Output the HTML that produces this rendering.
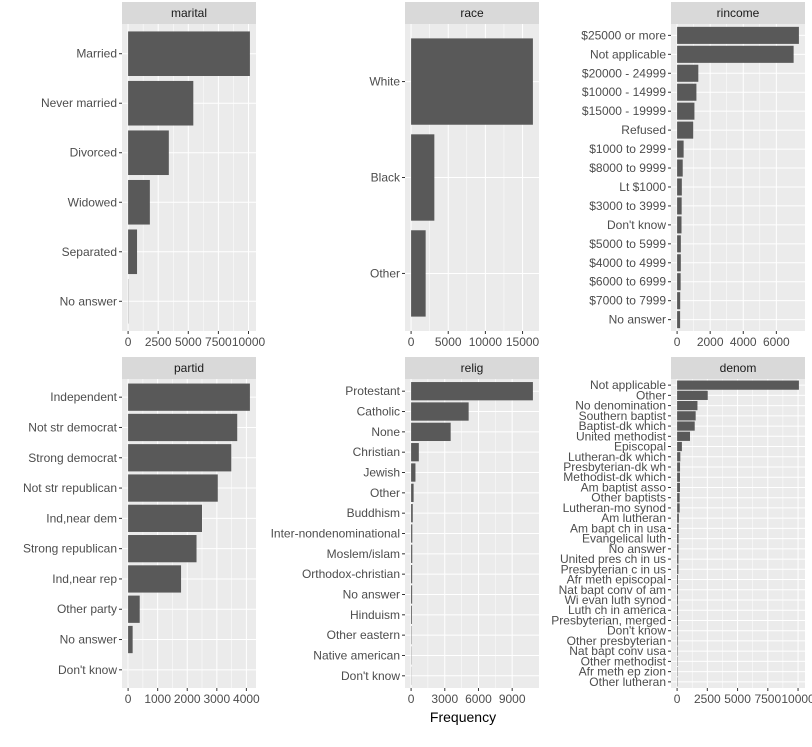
<!DOCTYPE html>
<html><head><meta charset="utf-8">
<style>
body{margin:0;background:#fff;}
svg{display:block;font-family:"Liberation Sans",Arial,sans-serif;}
</style></head>
<body>
<svg id="chart" width="812" height="747" viewBox="0 0 812 747" xmlns="http://www.w3.org/2000/svg"></svg>
<script>
// ---- data ----
const maritalCats = ["Married","Never married","Divorced","Widowed","Separated","No answer"];
const maritalVals = [10117,5416,3383,1807,743,17];
const maritalTicks = [0,2500,5000,7500,10000];

const raceCats = ["White","Black","Other"];
const raceVals = [16395,3129,1959];
const raceTicks = [0,5000,10000,15000];

const rincomeCats = ["$25000 or more","Not applicable","$20000 - 24999","$10000 - 14999","$15000 - 19999","Refused","$1000 to 2999","$8000 to 9999","Lt $1000","$3000 to 3999","Don't know","$5000 to 5999","$4000 to 4999","$6000 to 6999","$7000 to 7999","No answer"];
const rincomeVals = [7363,7043,1283,1168,1048,975,395,340,286,276,267,227,226,215,188,183];
const rincomeTicks = [0,2000,4000,6000];

const partidCats = ["Independent","Not str democrat","Strong democrat","Not str republican","Ind,near dem","Strong republican","Ind,near rep","Other party","No answer","Don't know"];
const partidVals = [4119,3690,3490,3032,2499,2314,1791,393,154,1];
const partidTicks = [0,1000,2000,3000,4000];

const religCats = ["Protestant","Catholic","None","Christian","Jewish","Other","Buddhism","Inter-nondenominational","Moslem/islam","Orthodox-christian","No answer","Hinduism","Other eastern","Native american","Don't know"];
const religVals = [10846,5124,3523,689,388,224,147,109,104,95,93,71,32,23,15];
const religTicks = [0,3000,6000,9000];

const denomCats = ["Not applicable","Other","No denomination","Southern baptist","Baptist-dk which","United methodist","Episcopal","Lutheran-dk which","Presbyterian-dk wh","Methodist-dk which","Am baptist asso","Other baptists","Lutheran-mo synod","Am lutheran","Am bapt ch in usa","Evangelical luth","No answer","United pres ch in us","Presbyterian c in us","Afr meth episcopal","Nat bapt conv of am","Wi evan luth synod","Luth ch in america","Presbyterian, merged","Don't know","Other presbyterian","Nat bapt conv usa","Other methodist","Afr meth ep zion","Other lutheran"];
const denomVals = [10072,2534,1683,1536,1457,1067,397,267,244,239,237,213,212,146,130,122,117,110,104,73,76,71,71,67,52,47,40,33,32,30];
const denomTicks = [0,2500,5000,7500,10000];

// ---- layout ----
const NS="http://www.w3.org/2000/svg";
const svg=document.getElementById('chart');
function el(tag,attrs,parent){const e=document.createElementNS(NS,tag);for(const k in attrs)e.setAttribute(k,attrs[k]);(parent||svg).appendChild(e);return e;}

const panels=[
 {name:"marital",cats:maritalCats,vals:maritalVals,ticks:maritalTicks,x0:122,x1:256,sy0:2,sy1:24,y0:24,y1:331,fs:12},
 {name:"race",cats:raceCats,vals:raceVals,ticks:raceTicks,x0:405,x1:539,sy0:2,sy1:24,y0:24,y1:331,fs:12},
 {name:"rincome",cats:rincomeCats,vals:rincomeVals,ticks:rincomeTicks,x0:671,x1:805,sy0:2,sy1:24,y0:24,y1:331,fs:12},
 {name:"partid",cats:partidCats,vals:partidVals,ticks:partidTicks,x0:122,x1:256,sy0:357,sy1:379,y0:379,y1:688,fs:12},
 {name:"relig",cats:religCats,vals:religVals,ticks:religTicks,x0:405,x1:539,sy0:357,sy1:379,y0:379,y1:688,fs:12},
 {name:"denom",cats:denomCats,vals:denomVals,ticks:denomTicks,x0:671,x1:805,sy0:357,sy1:379,y0:379,y1:688,fs:12}
];

panels.forEach(p=>{
  const g=el('g',{});
  
  
  const max=Math.max(...p.vals);
  const lo=-0.05*max, hi=1.05*max;
  const xs=v=>p.x0+(v-lo)/(hi-lo)*(p.x1-p.x0);
  const n=p.cats.length;
  const unit=(p.y1-p.y0)/(n-1+1.2);
  const ys=i=>p.y0+(0.6+i)*unit;
  // strip
  const st=el('rect',{x:p.x0,y:p.sy0,width:p.x1-p.x0,height:p.sy1-p.sy0,fill:'#d9d9d9'},g);
  
  
  const stt=el('text',{x:(p.x0+p.x1)/2,y:(p.sy0+p.sy1)/2+4,'text-anchor':'middle','font-size':12,fill:'#1a1a1a'},g);
  stt.textContent=p.name;
  
  
  // background
  const bg=el('rect',{x:p.x0,y:p.y0,width:p.x1-p.x0,height:p.y1-p.y0,fill:'#ebebeb'},g);
  
  
  // minor grid
  for(let i=0;i<p.ticks.length-1;i++){
    const xm=xs((p.ticks[i]+p.ticks[i+1])/2);
    el('line',{x1:xm,x2:xm,y1:p.y0,y2:p.y1,stroke:'#fff','stroke-width':0.5},g);
  }
  p.ticks.forEach(t=>{const x=xs(t);el('line',{x1:x,x2:x,y1:p.y0,y2:p.y1,stroke:'#fff','stroke-width':1},g);});
  p.cats.forEach((c,i)=>{const y=ys(i);el('line',{x1:p.x0,x2:p.x1,y1:y,y2:y,stroke:'#fff','stroke-width':1},g);});
  // bars
  p.vals.forEach((v,i)=>{
    const y=ys(i);
    const b=el('rect',{x:xs(0),y:y-0.45*unit,width:Math.max(0,xs(v)-xs(0)),height:0.9*unit,fill:'#595959'},g);
    
    
  });
  // y labels
  p.cats.forEach((c,i)=>{
    const y=ys(i);
    el('line',{x1:p.x0-3,x2:p.x0,y1:y,y2:y,stroke:'#333','stroke-width':1},g);
    const t=el('text',{x:p.x0-5,y:y+4,'text-anchor':'end','font-size':p.fs,fill:'#4d4d4d'},g);
    t.textContent=c;
    
    
  });
  // x ticks
  p.ticks.forEach(tv=>{
    const x=xs(tv);
    el('line',{x1:x,x2:x,y1:p.y1,y2:p.y1+3,stroke:'#333','stroke-width':1},g);
    const t=el('text',{x:x,y:p.y1+15,'text-anchor':'middle','font-size':12,fill:'#4d4d4d'},g);
    t.textContent=tv;
    
    
  });
});
const xt=el('text',{x:463,y:722,'text-anchor':'middle','font-size':14,fill:'#000'});
xt.textContent='Frequency';


</script>
</body></html>
